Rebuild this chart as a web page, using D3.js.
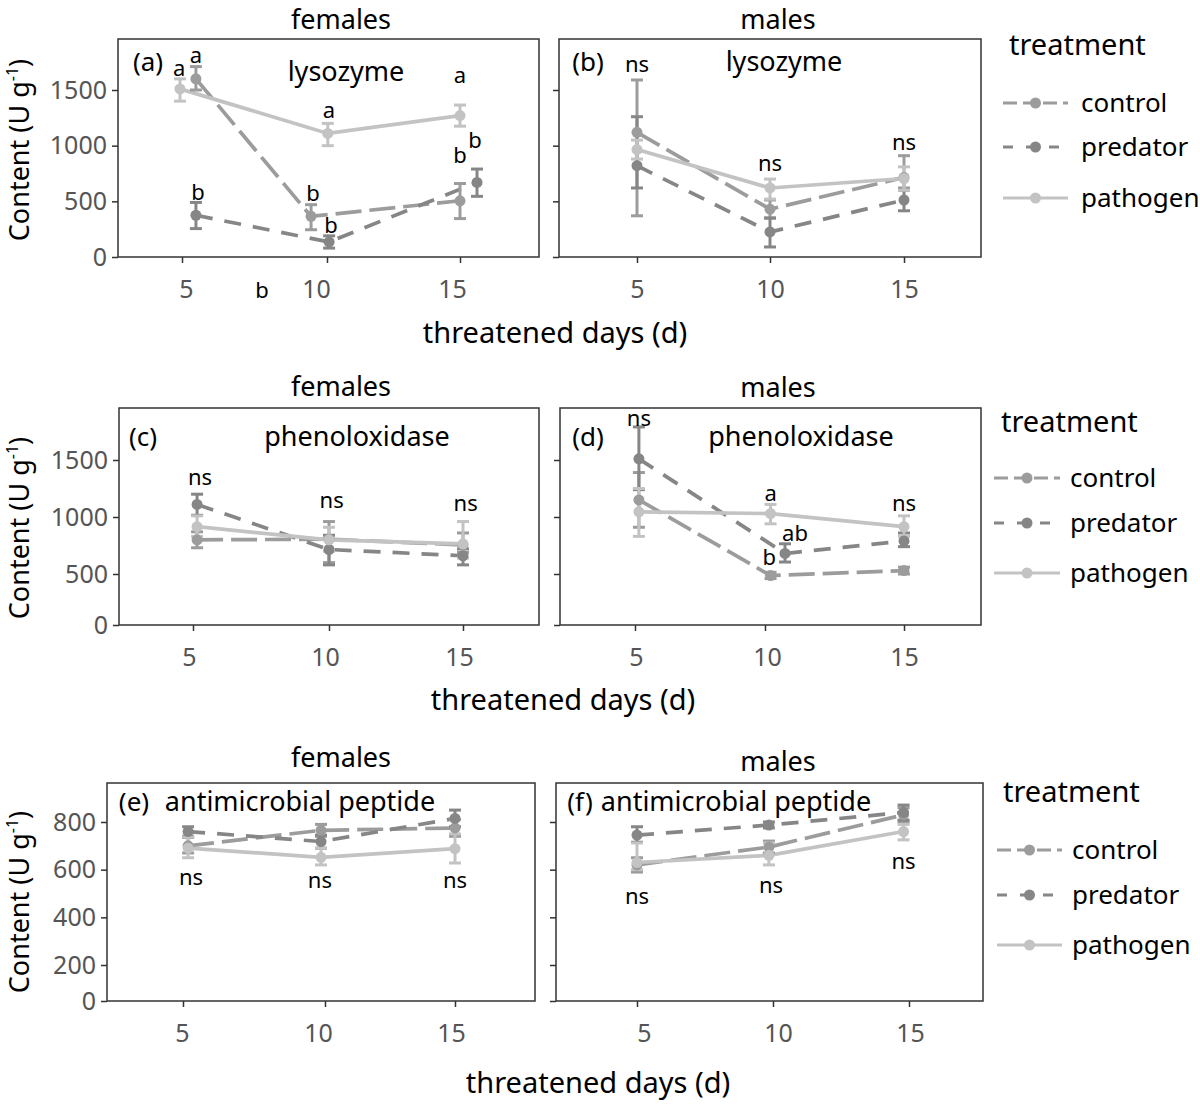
<!DOCTYPE html>
<html>
<head>
<meta charset="utf-8">
<script src="https://cdn.jsdelivr.net/npm/d3@7"></script>
<style>
  body { margin: 0; background: #fff; }
  svg text { font-family: "Noto Sans", "Open Sans", sans-serif; }
</style>
</head>
<body>
<svg id="chart" width="1200" height="1105"></svg>
<script>

// ---- data ----
var days = [5, 10, 15];
var treatments = ["control", "predator", "pathogen"];

// rows are: control, predator, pathogen ; x = plotted (dodged) day
// (a) lysozyme, females
var lysF_x    = [[5.48, 9.45, 15], [5.48, 10.08, 15.64], [4.93, 10.03, 15]];
var lysF_mean = [[1600, 365, 505], [375, 135, 670], [1510, 1110, 1270]];
var lysF_lo   = [[1500, 245, 345], [255, 80, 545], [1400, 1000, 1175]];
var lysF_hi   = [[1710, 470, 660], [490, 190, 790], [1600, 1200, 1365]];
var lysF_sig  = ["a", "a", "b", "a", "b", "b", "a", "b", "b", "b"];
var lysF_sigX = [4.9, 5.48, 5.55, 10.07, 9.52, 10.15, 15, 15, 15.56, 7.76];
var lysF_sigY = [1698, 1815, 584, 1320, 575, 287, 1635, 916, 1051, -297];

// (b) lysozyme, males
var lysM_x    = [[5, 10, 15], [5, 10, 15], [5, 10, 15]];
var lysM_mean = [[1120, 430, 715], [820, 225, 512], [965, 620, 705]];
var lysM_lo   = [[370, 350, 620], [620, 90, 415], [880, 520, 600]];
var lysM_hi   = [[1590, 512, 910], [1260, 350, 600], [1050, 700, 810]];
var lysM_sig  = ["ns", "ns", "ns"];
var lysM_sigX = [5, 10, 15];
var lysM_sigY = [1734, 845, 1033];

// (c) phenoloxidase, females
var phoF_x    = [[5.15, 10, 15], [5.15, 10, 15], [5.15, 10, 15]];
var phoF_mean = [[800, 805, 755], [1110, 715, 660], [915, 800, 765]];
var phoF_lo   = [[730, 600, 690], [1015, 580, 580], [830, 700, 640]];
var phoF_hi   = [[870, 960, 860], [1200, 840, 720], [1010, 910, 960]];
var phoF_sig  = ["ns", "ns", "ns"];
var phoF_sigX = [5.26, 10.1, 15.1];
var phoF_sigY = [1351, 1149, 1123];

// (d) phenoloxidase, males
var phoM_x    = [[5.15, 10.2, 15], [5.15, 10.72, 15], [5.15, 10.2, 15]];
var phoM_mean = [[1150, 485, 530], [1510, 680, 790], [1045, 1030, 915]];
var phoM_lo   = [[910, 455, 500], [1240, 605, 740], [830, 940, 830]];
var phoM_hi   = [[1390, 515, 560], [1790, 765, 860], [1250, 1110, 1010]];
var phoM_sig  = ["ns", "a", "ab", "b", "ns"];
var phoM_sigX = [5.15, 10.2, 11.08, 10.15, 15];
var phoM_sigY = [1868, 1210, 860, 650, 1123];

// (e) antimicrobial peptide, females
var ampF_x    = [[5.18, 9.86, 15], [5.18, 9.86, 15], [5.18, 9.86, 15]];
var ampF_mean = [[700, 765, 775], [760, 718, 815], [690, 652, 688]];
var ampF_lo   = [[670, 740, 740], [740, 690, 780], [650, 620, 628]];
var ampF_hi   = [[735, 790, 810], [780, 745, 850], [737, 690, 750]];
var ampF_sig  = ["ns", "ns", "ns"];
var ampF_sigX = [5.28, 9.82, 15];
var ampF_sigY = [569, 557, 557];

// (f) antimicrobial peptide, males
var ampM_x    = [[5, 9.85, 14.8], [5, 9.85, 14.8], [5, 9.85, 14.8]];
var ampM_mean = [[620, 695, 830], [745, 787, 840], [630, 660, 760]];
var ampM_lo   = [[590, 670, 800], [715, 775, 808], [600, 620, 725]];
var ampM_hi   = [[650, 720, 860], [780, 800, 871], [712, 712, 790]];
var ampM_sig  = ["ns", "ns", "ns"];
var ampM_sigX = [5, 9.93, 14.8];
var ampM_sigY = [490, 536, 636];

var ticksLyso = [0, 500, 1000, 1500];
var ticksAmp  = [0, 200, 400, 600, 800];

// ---- styles ----
var colors = { control: "#9c9c9c", predator: "#868686", pathogen: "#c3c3c3" };
var dashes = { control: "26,8", predator: "17,12", pathogen: null };
var keyDashes = { control: "14,6", predator: "10,13", pathogen: null };

var svg = d3.select("#chart");

// panel layout: box = [left, right, top, bottom]
var panels = [
  { tag: "(a)", name: "lysozyme", sex: "females", box: [118, 539, 39, 257], xr: [182, 327, 460],
    yd: [0, 1500], yr: [257, 90], yt: ticksLyso, showY: true, lab: [30, 23, 228, 33],
    sexPos: [341, 20], tickNudge: [4, -11, -8],
    x: lysF_x, mean: lysF_mean, lo: lysF_lo, hi: lysF_hi, sig: lysF_sig, sigX: lysF_sigX, sigY: lysF_sigY },
  { tag: "(b)", name: "lysozyme", sex: "males", box: [559, 981, 39, 257], xr: [637, 770, 904],
    yd: [0, 1500], yr: [257, 90], yt: ticksLyso, showY: false, lab: [29, 23, 225, 23],
    sexPos: [778, 20], tickNudge: [0, 0, 0],
    x: lysM_x, mean: lysM_mean, lo: lysM_lo, hi: lysM_hi, sig: lysM_sig, sigX: lysM_sigX, sigY: lysM_sigY },
  { tag: "(c)", name: "phenoloxidase", sex: "females", box: [119, 539, 408, 625], xr: [193, 329, 463],
    yd: [0, 500, 1500], yr: [625, 574, 460], yt: ticksLyso, showY: true, lab: [24, 29, 238, 29],
    sexPos: [341, 387], tickNudge: [-4, -4, -4],
    x: phoF_x, mean: phoF_mean, lo: phoF_lo, hi: phoF_hi, sig: phoF_sig, sigX: phoF_sigX, sigY: phoF_sigY },
  { tag: "(d)", name: "phenoloxidase", sex: "males", box: [560, 981, 408, 625], xr: [635, 765, 904],
    yd: [0, 500, 1500], yr: [625, 574, 460], yt: ticksLyso, showY: false, lab: [28, 29, 241, 29],
    sexPos: [778, 388], tickNudge: [1, 2, 0],
    x: phoM_x, mean: phoM_mean, lo: phoM_lo, hi: phoM_hi, sig: phoM_sig, sigX: phoM_sigX, sigY: phoM_sigY },
  { tag: "(e)", name: "antimicrobial peptide", sex: "females", box: [107, 535, 783, 1001], xr: [183, 325, 455],
    yd: [0, 200, 800], yr: [1001, 965, 822], yt: ticksAmp, showY: true, lab: [27, 19, 193, 19],
    sexPos: [341, 758], tickNudge: [-1, -7, -4],
    x: ampF_x, mean: ampF_mean, lo: ampF_lo, hi: ampF_hi, sig: ampF_sig, sigX: ampF_sigX, sigY: ampF_sigY },
  { tag: "(f)", name: "antimicrobial peptide", sex: "males", box: [556, 983, 783, 1001], xr: [637, 773, 909],
    yd: [0, 200, 800], yr: [1001, 965, 822], yt: ticksAmp, showY: false, lab: [24, 19, 180, 19],
    sexPos: [778, 762], tickNudge: [7, 5, 1],
    x: ampM_x, mean: ampM_mean, lo: ampM_lo, hi: ampM_hi, sig: ampM_sig, sigX: ampM_sigX, sigY: ampM_sigY }
];

var rows = [
  { yTitle: 150, xTitle: [555, 333], legend: { title: [1009, 45], items: [103, 147, 198], key: [1003, 1068], text: 1081 } },
  { yTitle: 528, xTitle: [563, 700], legend: { title: [1001, 422], items: [478, 523, 573], key: [994, 1060], text: 1070 } },
  { yTitle: 902, xTitle: [598, 1083], legend: { title: [1003, 792], items: [850, 895, 945], key: [997, 1062], text: 1072 } }
];

panels.forEach(function(p) { drawPanel(p); });
rows.forEach(function(r) { drawRowText(r); });

function styleAxis(g) {
  g.select(".domain").remove();
  g.selectAll(".tick line").attr("stroke", "#333").attr("stroke-width", 1.5);
  g.selectAll(".tick text").attr("fill", "#555").attr("font-size", 25)
    .style("font-family", "'Noto Sans', sans-serif");
}

function drawPanel(p) {
  var b = p.box;
  var x = d3.scaleLinear().domain(days).range(p.xr);
  var y = d3.scaleLinear().domain(p.yd).range(p.yr);
  var g = svg.append("g");

  // axes
  var gx = g.append("g")
    .attr("transform", "translate(0," + b[3] + ")")
    .call(d3.axisBottom(x).tickValues(days).tickSize(6).tickPadding(17).tickFormat(d3.format("d")))
    .call(styleAxis);
  gx.selectAll(".tick text").attr("x", function(d, i) { return p.tickNudge[i]; });

  g.append("g")
    .attr("transform", "translate(" + b[0] + ",0)")
    .call(d3.axisLeft(y).tickValues(p.yt).tickSize(6).tickPadding(5)
      .tickFormat(p.showY ? d3.format("d") : ""))
    .call(styleAxis);

  // panel frame
  g.append("rect")
    .attr("x", b[0]).attr("y", b[2])
    .attr("width", b[1] - b[0]).attr("height", b[3] - b[2])
    .attr("fill", "none").attr("stroke", "#333").attr("stroke-width", 1.5);

  var line = d3.line()
    .x(function(d) { return x(d.x); })
    .y(function(d) { return y(d.m); });

  var series = treatments.map(function(t, i) {
    return { t: t, pts: days.map(function(d, j) {
      return { x: p.x[i][j], m: p.mean[i][j], lo: p.lo[i][j], hi: p.hi[i][j] };
    }) };
  });

  // lines
  series.forEach(function(s) {
    g.append("path").datum(s.pts)
      .attr("d", line)
      .attr("fill", "none")
      .attr("stroke", colors[s.t])
      .attr("stroke-width", 3.7)
      .attr("stroke-dasharray", dashes[s.t]);
  });

  // error bars
  series.forEach(function(s) {
    var eb = g.append("g").attr("stroke", colors[s.t]).attr("stroke-width", 3);
    eb.selectAll("line.v").data(s.pts).enter().append("line")
      .attr("x1", function(d) { return x(d.x); }).attr("x2", function(d) { return x(d.x); })
      .attr("y1", function(d) { return y(d.lo); }).attr("y2", function(d) { return y(d.hi); });
    ["lo", "hi"].forEach(function(k) {
      eb.selectAll("line." + k).data(s.pts).enter().append("line")
        .attr("x1", function(d) { return x(d.x) - 6; }).attr("x2", function(d) { return x(d.x) + 6; })
        .attr("y1", function(d) { return y(d[k]); }).attr("y2", function(d) { return y(d[k]); });
    });
  });

  // points
  series.forEach(function(s) {
    g.selectAll(null).data(s.pts).enter().append("circle")
      .attr("cx", function(d) { return x(d.x); })
      .attr("cy", function(d) { return y(d.m); })
      .attr("r", 5.5)
      .attr("fill", colors[s.t]);
  });

  // significance letters
  g.selectAll(null).data(p.sig).enter().append("text")
    .attr("x", function(d, i) { return x(p.sigX[i]); })
    .attr("y", function(d, i) { return y(p.sigY[i]); })
    .attr("dy", "0.35em")
    .attr("text-anchor", "middle")
    .attr("font-size", 22)
    .text(function(d) { return d; });

  // panel tag and assay name
  g.append("text").attr("x", b[0] + p.lab[0]).attr("y", b[2] + p.lab[1]).attr("dy", "0.35em")
    .attr("text-anchor", "middle").attr("font-size", 26).text(p.tag);
  g.append("text").attr("x", b[0] + p.lab[2]).attr("y", b[2] + p.lab[3]).attr("dy", "0.35em")
    .attr("text-anchor", "middle").attr("font-size", 27).text(p.name);

  // sex header
  g.append("text").attr("x", p.sexPos[0]).attr("y", p.sexPos[1]).attr("dy", "0.35em")
    .attr("text-anchor", "middle").attr("font-size", 27).text(p.sex);
}

function drawRowText(r) {
  // y title
  var yt = svg.append("text")
    .attr("transform", "translate(20," + r.yTitle + ") rotate(-90)")
    .attr("dy", "0.35em")
    .attr("text-anchor", "middle")
    .attr("font-size", 27);
  yt.append("tspan").text("Content (U g");
  yt.append("tspan").attr("font-size", 16).attr("baseline-shift", "super").text("-1");
  yt.append("tspan").text(")");

  // x title
  svg.append("text")
    .attr("x", r.xTitle[0]).attr("y", r.xTitle[1]).attr("dy", "0.35em")
    .attr("text-anchor", "middle").attr("font-size", 29)
    .text("threatened days (d)");

  // legend
  var L = r.legend;
  svg.append("text").attr("x", L.title[0]).attr("y", L.title[1]).attr("dy", "0.35em")
    .attr("font-size", 29).text("treatment");
  treatments.forEach(function(t, i) {
    var yy = L.items[i];
    svg.append("line")
      .attr("x1", L.key[0]).attr("x2", L.key[1]).attr("y1", yy).attr("y2", yy)
      .attr("stroke", colors[t]).attr("stroke-width", 3)
      .attr("stroke-dasharray", keyDashes[t]);
    svg.append("circle").attr("cx", (L.key[0] + L.key[1]) / 2).attr("cy", yy)
      .attr("r", 5.5).attr("fill", colors[t]);
    svg.append("text").attr("x", L.text).attr("y", yy).attr("dy", "0.35em")
      .attr("font-size", 26).text(t);
  });
}
</script>
</body>
</html>
